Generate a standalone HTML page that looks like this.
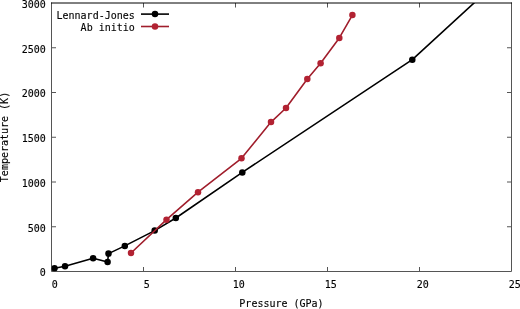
<!DOCTYPE html>
<html><head><meta charset="utf-8"><style>html,body{margin:0;padding:0;background:#fff;}svg{display:block;}</style></head>
<body><svg width="520" height="309" viewBox="0 0 520 309">
<rect x="0" y="0" width="520" height="309" fill="#fff"/>
<path d="M143.50,271.5V267.0M143.50,3.0V7.5M235.50,271.5V267.0M235.50,3.0V7.5M327.50,271.5V267.0M327.50,3.0V7.5M419.50,271.5V267.0M419.50,3.0V7.5M51.5,226.75H56.0M511.5,226.75H507.0M51.5,182.00H56.0M511.5,182.00H507.0M51.5,137.25H56.0M511.5,137.25H507.0M51.5,92.50H56.0M511.5,92.50H507.0M51.5,47.75H56.0M511.5,47.75H507.0" stroke="#555" stroke-width="1.0" fill="none"/>
<path d="M51.5,3.0V271.5H511.5V3.0" stroke="#555" stroke-width="1.0" fill="none" stroke-linecap="square"/>
<path d="M51.0,3.0H512.0" stroke="#000" stroke-width="1.0" fill="none"/>
<clipPath id="c"><rect x="51.5" y="3.0" width="460.0" height="268.5"/></clipPath>
<g clip-path="url(#c)" stroke-linejoin="round" stroke-linecap="round">
<polyline points="54.50,268.20 65.00,266.20 93.10,258.20 107.60,262.00 108.50,253.60 124.80,245.90 154.70,230.60 175.80,218.00 242.30,172.40 412.30,59.70 492.51,-14.01" fill="none" stroke="#000" stroke-width="1.6"/>
<circle cx="54.5" cy="268.2" r="3.25" fill="#000"/>
<circle cx="65.0" cy="266.2" r="3.25" fill="#000"/>
<circle cx="93.1" cy="258.2" r="3.25" fill="#000"/>
<circle cx="107.6" cy="262.0" r="3.25" fill="#000"/>
<circle cx="108.5" cy="253.6" r="3.25" fill="#000"/>
<circle cx="124.8" cy="245.9" r="3.25" fill="#000"/>
<circle cx="154.7" cy="230.6" r="3.25" fill="#000"/>
<circle cx="175.8" cy="218.0" r="3.25" fill="#000"/>
<circle cx="242.3" cy="172.4" r="3.25" fill="#000"/>
<circle cx="412.3" cy="59.7" r="3.25" fill="#000"/>
<polyline points="131.00,253.00 166.50,219.70 198.00,192.20 241.50,158.30 271.00,122.10 286.00,108.00 307.30,79.00 320.60,63.20 339.30,37.90 352.40,15.10" fill="none" stroke="#a01e2c" stroke-width="1.6"/>
<circle cx="131.0" cy="253.0" r="3.25" fill="#b22232"/>
<circle cx="166.5" cy="219.7" r="3.25" fill="#b22232"/>
<circle cx="198.0" cy="192.2" r="3.25" fill="#b22232"/>
<circle cx="241.5" cy="158.3" r="3.25" fill="#b22232"/>
<circle cx="271.0" cy="122.1" r="3.25" fill="#b22232"/>
<circle cx="286.0" cy="108.0" r="3.25" fill="#b22232"/>
<circle cx="307.3" cy="79.0" r="3.25" fill="#b22232"/>
<circle cx="320.6" cy="63.2" r="3.25" fill="#b22232"/>
<circle cx="339.3" cy="37.9" r="3.25" fill="#b22232"/>
<circle cx="352.4" cy="15.1" r="3.25" fill="#b22232"/>
</g>
<path d="M141,14.1H169" stroke="#000" stroke-width="1.6"/><circle cx="155" cy="14.1" r="3.25" fill="#000"/>
<path d="M141,26.5H169" stroke="#a01e2c" stroke-width="1.6"/><circle cx="155" cy="26.5" r="3.25" fill="#b22232"/>
<g font-family="'DejaVu Sans Mono', 'Liberation Mono', monospace" font-size="10" fill="#000" stroke="#000" stroke-width="0.12"><text x="134.8" y="18.9" text-anchor="end">Lennard-Jones</text><text x="134.8" y="30.9" text-anchor="end">Ab initio</text><text x="45.8" y="276.40" text-anchor="end">0</text><text x="45.8" y="231.65" text-anchor="end">500</text><text x="45.8" y="186.90" text-anchor="end">1000</text><text x="45.8" y="142.15" text-anchor="end">1500</text><text x="45.8" y="97.40" text-anchor="end">2000</text><text x="45.8" y="52.65" text-anchor="end">2500</text><text x="45.8" y="7.90" text-anchor="end">3000</text><text x="54.80" y="288.3" text-anchor="middle">0</text><text x="146.80" y="288.3" text-anchor="middle">5</text><text x="238.80" y="288.3" text-anchor="middle">10</text><text x="330.80" y="288.3" text-anchor="middle">15</text><text x="422.80" y="288.3" text-anchor="middle">20</text><text x="514.80" y="288.3" text-anchor="middle">25</text><text x="281.5" y="306.6" text-anchor="middle">Pressure (GPa)</text><text transform="translate(7.9,137.0) rotate(-90)" text-anchor="middle">Temperature (K)</text></g>
</svg></body></html>
